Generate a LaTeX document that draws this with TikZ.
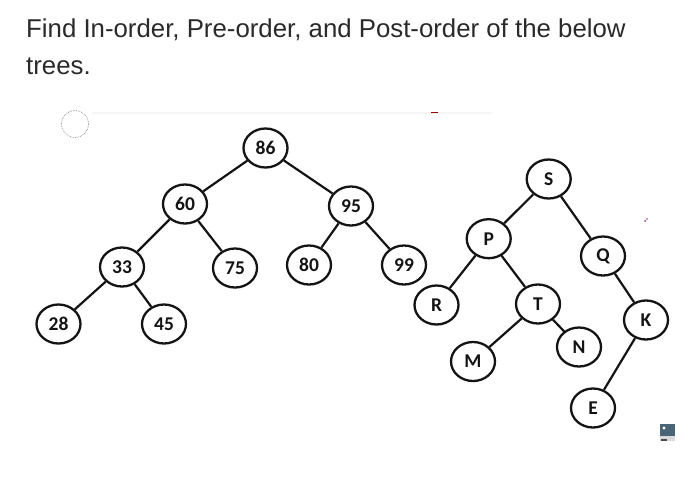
\documentclass[tikz,border=0pt]{standalone}
\usepackage{fontspec}
\setmainfont{Liberation Sans}
\newfontfamily\nodefont{Carlito}
\usetikzlibrary{shapes.geometric}
\definecolor{inkc}{HTML}{141414}
\definecolor{titlec}{HTML}{2A2A2A}
\definecolor{iconc}{HTML}{4A6478}
\tikzset{
  tn/.style={ellipse,draw=inkc,line width=2.3pt,fill=white,minimum width=44pt,minimum height=39pt,inner sep=0pt,font=\nodefont\fontsize{19.5}{20}\selectfont\bfseries,text=inkc},
  edge/.style={draw=inkc,line width=2.2pt},
  titletext/.style={anchor=base west,inner sep=0pt,font=\fontsize{25.8}{26}\selectfont,text=titlec}
}
\begin{document}
\begin{tikzpicture}[x=1pt,y=-1pt]
\useasboundingbox (0,0) rectangle (700,476);
\fill[white] (0,0) rectangle (700,476);
\node[titletext] (t1) at (26,38) {Find In-order, Pre-order, and Post-order of the below};
\node[titletext] (t2) at (26,75) {trees.};
% faint artefacts
\draw[gray!90,densely dotted,line width=0.7pt] (75,124) circle (13.5);
\draw[gray!7,line width=1.5pt] (92,113) -- (492,113);
\draw[red!60!black,line width=1.2pt] (431,112.5) -- (438,112.5);
\fill[violet!80] (645,221) circle (1) (647,219) circle (0.9);
\fill[iconc] (660,424) rectangle (675,436);
\fill[gray!30] (660,436) rectangle (675,441);
\fill[black!70] (661,439) rectangle (667,441);
\fill[white] (664,428) circle (1.6);
% tree 1
\node[tn] (n86) at (265.5,148) {86};
\node[tn] (n60) at (185,204) {60};
\node[tn] (n95) at (351,206) {95};
\node[tn] (n33) at (122,267) {33};
\node[tn] (n75) at (235,268) {75};
\node[tn] (n80) at (309,265) {80};
\node[tn] (n99) at (404,265) {99};
\node[tn] (n28) at (58.5,324) {28};
\node[tn] (n45) at (164,324) {45};
% tree 2
\node[tn] (S) at (548.7,179) {S};
\node[tn] (P) at (488.7,238.7) {P};
\node[tn] (Q) at (603,256) {Q};
\node[tn] (R) at (436.5,305) {R};
\node[tn] (T) at (538,304) {T};
\node[tn] (K) at (646,320) {K};
\node[tn] (M) at (473,361.5) {M};
\node[tn] (N) at (579,347) {N};
\node[tn] (E) at (593,408) {E};
\foreach \a/\b in {n86/n60,n86/n95,n60/n33,n60/n75,n95/n80,n95/n99,n33/n28,n33/n45,S/P,S/Q,P/R,P/T,T/M,T/N,Q/K,K/E}
  \draw[edge] (\a) -- (\b);
\end{tikzpicture}
\end{document}
